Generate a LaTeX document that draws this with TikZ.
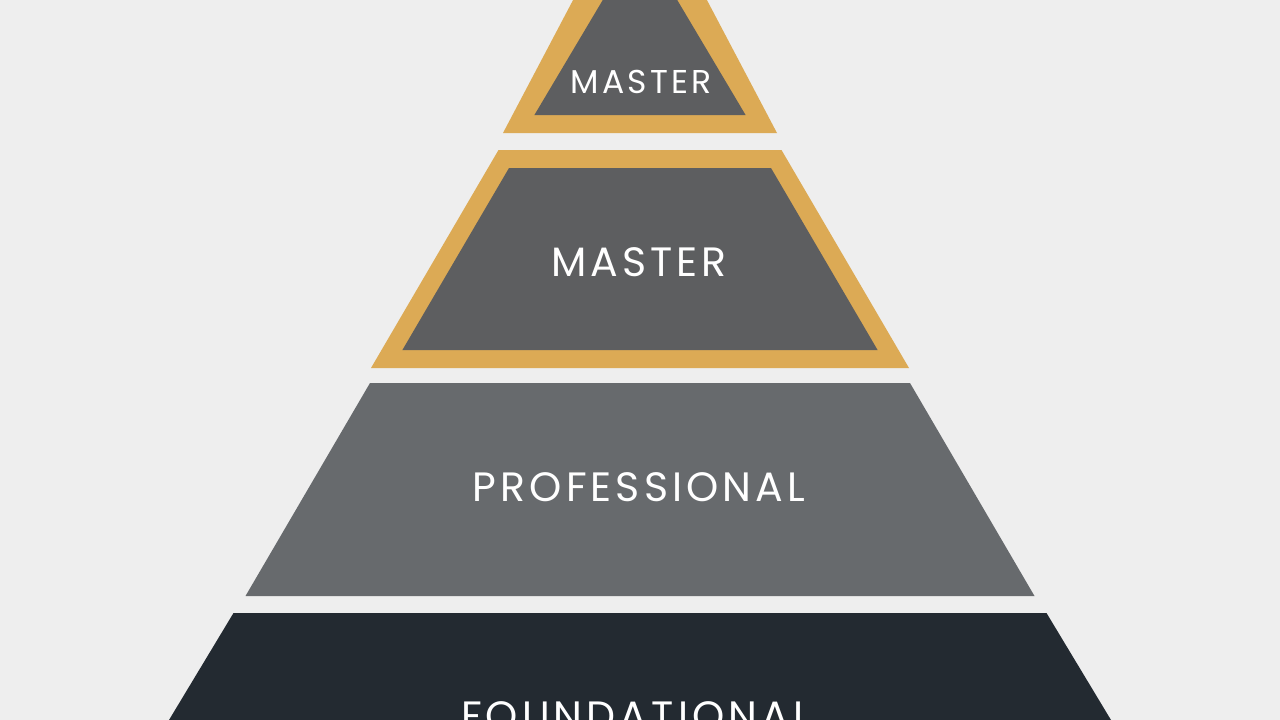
\documentclass[tikz,border=0pt]{standalone}
\usepackage{fontspec}
\setmainfont{Poppins}
\newfontfamily\tierfont[LetterSpace=10]{Poppins}
\definecolor{bgc}{HTML}{EEEEEE}
\definecolor{goldc}{HTML}{DCAA55}
\definecolor{darkc}{HTML}{5D5E60}
\definecolor{profc}{HTML}{676A6D}
\definecolor{foundc}{HTML}{232A31}
\tikzset{
  tierlabel/.style={text=white, inner sep=0pt, font=\tierfont\fontsize{#1}{#1}\selectfont},
}
\begin{document}
\begin{tikzpicture}[x=1pt,y=-1pt]
\useasboundingbox (0,0) rectangle (1280,720);
\clip (0,0) rectangle (1280,720);
\fill[bgc] (0,0) rectangle (1280,720);
% top triangle
\fill[goldc] (640,-127) -- (777,133) -- (503,133) -- cycle;
\fill[darkc] (640,-62.6) -- (745.6,115) -- (534.4,115) -- cycle;
\node[tierlabel=33] (m1) at (641,82) {MASTER};
% second tier
\fill[goldc] (498.5,150) -- (781.5,150) -- (909,368) -- (371,368) -- cycle;
\fill[darkc] (509,168) -- (771,168) -- (877.6,350) -- (402.4,350) -- cycle;
\node[tierlabel=41] (m2) at (639,262) {MASTER};
% professional
\fill[profc] (370,383) -- (910,383) -- (1034.5,596) -- (245.5,596) -- cycle;
\node[tierlabel=41] (pro) at (639,487) {PROFESSIONAL};
% foundational
\fill[foundc] (233.5,613) -- (1046.5,613) -- (1111,720) -- (169,720) -- cycle;
\node[tierlabel=41] (fou) at (636,716) {FOUNDATIONAL};
\end{tikzpicture}
\end{document}
